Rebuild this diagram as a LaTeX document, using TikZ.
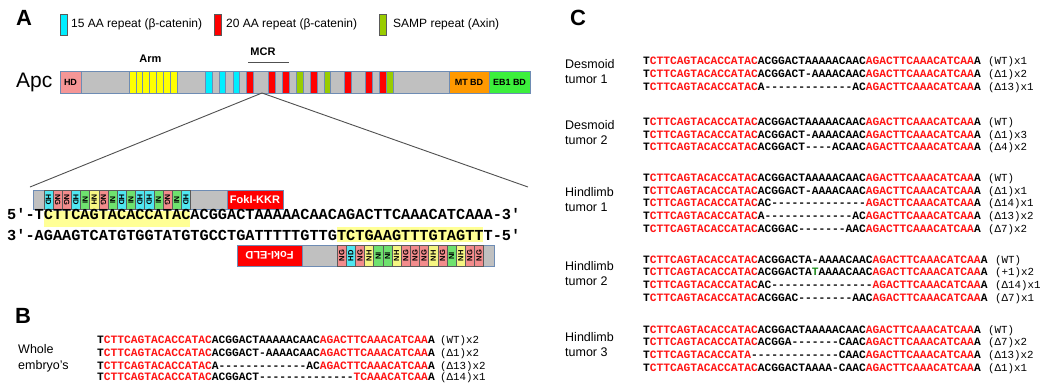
\documentclass[tikz,border=0pt]{standalone}
\usepackage{fontspec}
\setmainfont{Liberation Sans}
\newfontfamily\seqfam[Ligatures=TeXOff]{Liberation Mono}
\definecolor{seqred}{RGB}{255,20,20}
\definecolor{plusgreen}{RGB}{30,140,30}
\definecolor{talHD}{RGB}{80,230,240}
\definecolor{talNG}{RGB}{242,140,140}
\definecolor{talNI}{RGB}{110,225,110}
\definecolor{talNH}{RGB}{245,245,130}
\definecolor{apcgrey}{RGB}{192,192,192}
\definecolor{apcborder}{RGB}{110,140,180}
\definecolor{hdpink}{RGB}{245,150,150}
\definecolor{armyellow}{RGB}{255,255,0}
\definecolor{aa15}{RGB}{0,238,255}
\definecolor{aa20}{RGB}{255,0,0}
\definecolor{samp}{RGB}{153,204,0}
\definecolor{mtbd}{RGB}{255,153,0}
\definecolor{ebone}{RGB}{60,240,60}
\definecolor{hilite}{RGB}{255,255,150}
\definecolor{repborder}{RGB}{90,90,90}
\definecolor{zoomgrey}{RGB}{80,80,80}
\newcommand\fsz[1]{\fontsize{#1}{#1}\selectfont}
\newcommand\rs[1]{\textcolor{seqred}{#1}}
\newcommand\gs[1]{\textcolor{plusgreen}{#1}}
\newcommand\seqrowat[6]{\node[seqrow] (#1) at (#2,#3) {#4}; \node[note] (#1n) at (#5,#3) {#6};}
\begin{document}
\begin{tikzpicture}[x=1pt,y=-1pt,
  panel/.style={font=\fsz{22}\bfseries, inner sep=0},
  legtxt/.style={font=\fsz{12}, inner sep=0, anchor=west},
  legbox/.style={draw=repborder, line width=0.5pt, inner sep=0, anchor=north west, minimum width=7pt, minimum height=21pt},
  box/.style={draw=apcborder, line width=0.7pt, inner sep=0, outer sep=0, anchor=north west, minimum height=22pt},
  domlbl/.style={font=\fsz{9}\bfseries, inner sep=0},
  toplbl/.style={font=\fsz{11}\bfseries, inner sep=0},
  rep/.style={draw=repborder, line width=0.5pt, inner sep=0, anchor=north west, minimum width=9.16pt},
  replbl/.style={font=\fsz{7.5}\bfseries, inner sep=0},
  bigseq/.style={font=\seqfam\bfseries\fsz{15.27}, inner sep=0, anchor=base west},
  seqrow/.style={font=\seqfam\bfseries\fsz{11.25}, inner sep=0, anchor=base west},
  note/.style={font=\seqfam\fsz{10.8}, inner sep=0, anchor=base west},
  grp/.style={font=\fsz{12.5}, inner sep=0, anchor=west},
  zoomline/.style={draw=zoomgrey, line width=0.9pt}
]
\useasboundingbox (0,0) rectangle (1041,383);
\fill[white] (0,0) rectangle (1041,383);

% ---------------- Panel A ----------------
\node[panel] (pA) at (24,18) {A};
\node[legbox, fill=aa15] (lg1) at (60,14) {};
\node[legtxt] (lt1) at (71,24.5) {15 AA repeat (β-catenin)};
\node[legbox, fill=aa20] (lg2) at (214,14) {};
\node[legtxt] (lt2) at (226,24.5) {20 AA repeat (β-catenin)};
\node[legbox, fill=samp] (lg3) at (379,14) {};
\node[legtxt] (lt3) at (393,24.5) {SAMP repeat (Axin)};

\node[toplbl] (arm) at (150.5,59) {Arm};
\node[toplbl] (mcr) at (263,52) {MCR};
\coordinate (mcrL) at (248,62);
\coordinate (mcrR) at (289,62);
\draw[zoomline] (mcrL) -- (mcrR);

\node[font=\fsz{21}, inner sep=0, anchor=west] (apclbl) at (16,82) {Apc};
\node[box, fill=apcgrey, minimum width=470pt] (apc) at (60,71) {};
\node[box, fill=hdpink, minimum width=21pt] (hd) at (60,71) {};
\node[domlbl] at (hd.center) {HD};
\foreach \i in {0,...,6} {
  \node[box, fill=armyellow, minimum width=6.86pt] (arm\i) at ({129+6.86*\i},71) {};
}
\foreach \xx/\w/\c [count=\k] in {205/7/aa15, 219/6.5/aa15, 233/6.5/aa15,
   246/7/aa20, 268.5/7/aa20, 282.5/7/aa20, 296.5/6.5/samp, 310.5/7/aa20,
   324/6.5/samp, 344.5/7/aa20, 365.5/7/aa20, 379.5/7/aa20, 386.5/6.5/samp} {
  \node[box, fill=\c, minimum width=\w pt] (rp\k) at (\xx,71) {};
}
\node[box, fill=mtbd, minimum width=40pt] (mt) at (449,71) {};
\node[domlbl] at (mt.center) {MT BD};
\node[box, fill=ebone, minimum width=41pt] (eb) at (489,71) {};
\node[domlbl] at (eb.center) {EB1 BD};

\coordinate (apex) at (262,93);
\coordinate (zl) at (30,187);
\coordinate (zr) at (528,187);
\draw[zoomline] (zl) -- (apex) -- (zr);

% highlights
\fill[hilite] (43.6,211) rectangle (190.2,227);
\fill[hilite] (336.8,227) rectangle (483.4,242);

% upper TALEN
\node[box, fill=apcgrey, minimum width=194pt, minimum height=19pt] (utal) at (33,190) {};
\node[box, fill=aa20, minimum width=56pt, minimum height=19pt, font=\fsz{11}\bfseries, text=white] (ukkr) at (227,190) {FokI-KKR};
\foreach \lab/\col [count=\k from 0] in {HD/talHD, NG/talNG, NG/talNG, HD/talHD, NI/talNI, NH/talNH, NG/talNG, NI/talNI, HD/talHD, NI/talNI, HD/talHD, HD/talHD, NI/talNI, NG/talNG, NI/talNI, HD/talHD} {
  \node[rep, fill=\col, minimum height=19pt] (u\k) at ({43.64+9.16*\k},190) {};
  \node[replbl, rotate=-90] at (u\k.center) {\lab};
}

% lower TALEN
\node[box, fill=apcgrey, minimum width=192pt, minimum height=21pt] (ltal) at (302,245) {};
\node[box, fill=aa20, minimum width=65pt, minimum height=21pt] (leld) at (237,245) {};
\node[font=\fsz{11}\bfseries, text=white, rotate=180, inner sep=0] (leldt) at (leld.center) {FokI-ELD};
\foreach \lab/\col [count=\k from 0] in {NG/talNG, HD/talHD, NG/talNG, NH/talNH, NI/talNI, NI/talNI, NH/talNH, NG/talNG, NG/talNG, NG/talNG, NH/talNH, NG/talNG, NI/talNI, NH/talNH, NG/talNG, NG/talNG} {
  \node[rep, fill=\col, minimum height=21pt] (d\k) at ({336.84+9.16*\k},245) {};
  \node[replbl, rotate=90] at (d\k.center) {\lab};
}

\node[bigseq] (s5) at (7,219.4) {5′-TCTTCAGTACACCATACACGGACTAAAAACAACAGACTTCAAACATCAAA-3′};
\node[bigseq] (s3) at (7,240.4) {3′-AGAAGTCATGTGGTATGTGCCTGATTTTTGTTGTCTGAAGTTTGTAGTTT-5′};

% ---------------- Panel B ----------------
\node[panel] (pB) at (23,316) {B};
\node[grp] (bl1) at (18,349) {Whole};
\node[grp] (bl2) at (18,366) {embryo's};
\seqrowat{b1}{97}{343.5}{T\rs{CTTCAGTACACCATAC}ACGGACTAAAAACAAC\rs{AGACTTCAAACATCAA}A}{440}{(WT)x2}
\seqrowat{b2}{97}{356.3}{T\rs{CTTCAGTACACCATAC}ACGGACT-AAAACAAC\rs{AGACTTCAAACATCAA}A}{440}{(Δ1)x2}
\seqrowat{b3}{97}{369.1}{T\rs{CTTCAGTACACCATAC}A-------------AC\rs{AGACTTCAAACATCAA}A}{440}{(Δ13)x2}
\seqrowat{b4}{97}{380.6}{T\rs{CTTCAGTACACCATAC}ACGGACT--------------\rs{TCAAACATCAA}A}{440}{(Δ14)x1}

% ---------------- Panel C ----------------
\node[panel] (pC) at (578,18) {C};
% Desmoid tumor 1
\node[grp] (c1a) at (565,64) {Desmoid};
\node[grp] (c1b) at (565,79) {tumor 1};
\seqrowat{c11}{643}{64.5}{T\rs{CTTCAGTACACCATAC}ACGGACTAAAAACAAC\rs{AGACTTCAAACATCAA}A}{988}{(WT)x1}
\seqrowat{c12}{643}{77.3}{T\rs{CTTCAGTACACCATAC}ACGGACT-AAAACAAC\rs{AGACTTCAAACATCAA}A}{988}{(Δ1)x2}
\seqrowat{c13}{643}{90.1}{T\rs{CTTCAGTACACCATAC}A-------------AC\rs{AGACTTCAAACATCAA}A}{988}{(Δ13)x1}
% Desmoid tumor 2
\node[grp] (c2a) at (565,125) {Desmoid};
\node[grp] (c2b) at (565,140) {tumor 2};
\seqrowat{c21}{643}{125.2}{T\rs{CTTCAGTACACCATAC}ACGGACTAAAAACAAC\rs{AGACTTCAAACATCAA}A}{988}{(WT)}
\seqrowat{c22}{643}{138.0}{T\rs{CTTCAGTACACCATAC}ACGGACT-AAAACAAC\rs{AGACTTCAAACATCAA}A}{988}{(Δ1)x3}
\seqrowat{c23}{643}{150.8}{T\rs{CTTCAGTACACCATAC}ACGGACT----ACAAC\rs{AGACTTCAAACATCAA}A}{988}{(Δ4)x2}
% Hindlimb tumor 1
\node[grp] (c3a) at (565,192) {Hindlimb};
\node[grp] (c3b) at (565,207) {tumor 1};
\seqrowat{c31}{643}{181.7}{T\rs{CTTCAGTACACCATAC}ACGGACTAAAAACAAC\rs{AGACTTCAAACATCAA}A}{988}{(WT)}
\seqrowat{c32}{643}{194.3}{T\rs{CTTCAGTACACCATAC}ACGGACT-AAAACAAC\rs{AGACTTCAAACATCAA}A}{988}{(Δ1)x1}
\seqrowat{c33}{643}{206.9}{T\rs{CTTCAGTACACCATAC}AC--------------\rs{AGACTTCAAACATCAA}A}{988}{(Δ14)x1}
\seqrowat{c34}{643}{219.5}{T\rs{CTTCAGTACACCATAC}A-------------AC\rs{AGACTTCAAACATCAA}A}{988}{(Δ13)x2}
\seqrowat{c35}{643}{232.1}{T\rs{CTTCAGTACACCATAC}ACGGAC-------AAC\rs{AGACTTCAAACATCAA}A}{988}{(Δ7)x2}
% Hindlimb tumor 2
\node[grp] (c4a) at (565,266) {Hindlimb};
\node[grp] (c4b) at (565,281) {tumor 2};
\seqrowat{c41}{643}{263.2}{T\rs{CTTCAGTACACCATAC}ACGGACTA-AAAACAAC\rs{AGACTTCAAACATCAA}A}{995}{(WT)}
\seqrowat{c42}{643}{275.8}{T\rs{CTTCAGTACACCATAC}ACGGACTA\gs{T}AAAACAAC\rs{AGACTTCAAACATCAA}A}{995}{(+1)x2}
\seqrowat{c43}{643}{288.4}{T\rs{CTTCAGTACACCATAC}AC---------------\rs{AGACTTCAAACATCAA}A}{995}{(Δ14)x1}
\seqrowat{c44}{643}{301.0}{T\rs{CTTCAGTACACCATAC}ACGGAC--------AAC\rs{AGACTTCAAACATCAA}A}{995}{(Δ7)x1}
% Hindlimb tumor 3
\node[grp] (c5a) at (565,337) {Hindlimb};
\node[grp] (c5b) at (565,352) {tumor 3};
\seqrowat{c51}{643}{333.2}{T\rs{CTTCAGTACACCATAC}ACGGACTAAAAACAAC\rs{AGACTTCAAACATCAA}A}{988}{(WT)}
\seqrowat{c52}{643}{345.8}{T\rs{CTTCAGTACACCATAC}ACGGA-------CAAC\rs{AGACTTCAAACATCAA}A}{988}{(Δ7)x2}
\seqrowat{c53}{643}{358.4}{T\rs{CTTCAGTACACCATA}-------------CAAC\rs{AGACTTCAAACATCAA}A}{988}{(Δ13)x2}
\seqrowat{c54}{643}{371.0}{T\rs{CTTCAGTACACCATAC}ACGGACTAAAA-CAAC\rs{AGACTTCAAACATCAA}A}{988}{(Δ1)x1}
\end{tikzpicture}
\end{document}
